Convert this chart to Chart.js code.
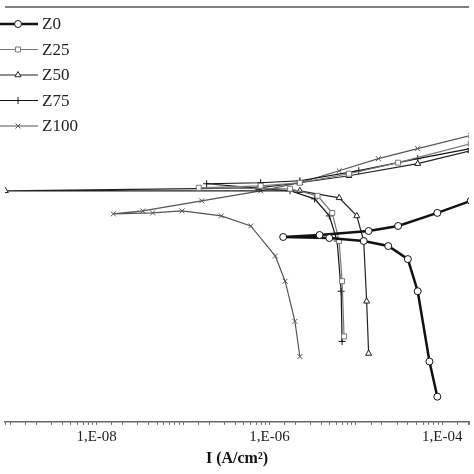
<!DOCTYPE html>
<html>
<head>
<meta charset="utf-8">
<script src="https://cdn.jsdelivr.net/npm/chart.js@4"></script>
<style>
  html, body { margin: 0; padding: 0; background: #fff; }
  #wrap { width: 474px; height: 474px; }
</style>
</head>
<body>
<div id="wrap"><canvas id="c"></canvas></div>
<script>
// log10 of current density (A/cm2) and potential (arbitrary units, axis cropped)
const seriesNames = ['Z0', 'Z25', 'Z50', 'Z75', 'Z100'];
const logI_Z0 = [-4.057, -4.148, -4.284, -4.398, -4.625, -4.909, -5.307, -5.841, -5.420, -4.852, -4.511, -4.057, -3.670];
const E_Z0 = [25, 60, 130, 162, 175, 180, 183, 184, 186, 190, 195, 208, 220];
const logI_Z25 = [-5.136, -5.159, -5.193, -5.273, -5.443, -5.761, -6.818, -6.102, -5.648, -5.080, -4.511, -3.670];
const E_Z25 = [85, 140, 180, 208, 225, 232, 233, 235, 238, 247, 258, 277];
const logI_Z50 = [-4.852, -4.875, -4.909, -4.989, -5.193, -5.648, -9.057, -6.125, -5.648, -5.080, -4.284, -3.670];
const E_Z50 = [68, 120, 180, 205, 223, 230, 230, 233, 238, 245, 257, 270];
const logI_Z75 = [-5.159, -5.170, -5.216, -5.307, -5.477, -5.761, -6.727, -6.102, -5.648, -4.966, -4.284, -3.670];
const E_Z75 = [80, 130, 180, 205, 222, 230, 237, 238, 240, 250, 262, 272];
const logI_Z100 = [-5.648, -5.705, -5.818, -5.932, -6.216, -6.557, -7.011, -7.352, -7.807, -7.466, -6.784, -6.102, -5.648, -5.193, -4.739, -4.284, -3.670];
const E_Z100 = [65, 100, 140, 165, 195, 205, 210, 208, 207, 210, 220, 230, 238, 250, 262, 272, 285];
const xTickLabels = { '-8': '1,E-08', '-6': '1,E-06', '-4': '1,E-04' };

const logs = [logI_Z0, logI_Z25, logI_Z50, logI_Z75, logI_Z100];
const pots = [E_Z0, E_Z25, E_Z50, E_Z75, E_Z100];
const markers = ['circle', 'rect', 'triangle', 'cross', 'crossRot'];
const colors = ['#111', '#777', '#222', '#111', '#555'];
const widths = [2.5, 1.2, 1.2, 1.2, 1.2];

const datasets = seriesNames.map((name, i) => ({
  label: name,
  data: logs[i].map((l, k) => ({ x: Math.pow(10, l), y: pots[i][k] })),
  showLine: true,
  borderColor: colors[i],
  borderWidth: widths[i],
  pointStyle: markers[i],
  pointRadius: 3.5,
  pointBackgroundColor: '#fff',
  pointBorderColor: colors[i],
  pointBorderWidth: 1
}));

// top frame line and legend drawn inside the plot
const framePlugin = {
  id: 'frame',
  afterDraw(chart) {
    const { ctx, chartArea } = chart;
    ctx.save();
    ctx.strokeStyle = '#555';
    ctx.lineWidth = 1.5;
    ctx.beginPath();
    ctx.moveTo(chartArea.left, chartArea.top);
    ctx.lineTo(chartArea.right, chartArea.top);
    ctx.stroke();
    chart.data.datasets.forEach((ds, i) => {
      const y = 24 + i * 25.5;
      ctx.strokeStyle = ds.borderColor;
      ctx.lineWidth = i === 0 ? 2.5 : 1;
      ctx.beginPath();
      ctx.moveTo(0, y);
      ctx.lineTo(38, y);
      ctx.stroke();
      ctx.fillStyle = '#fff';
      ctx.lineWidth = 1;
      Chart.helpers.drawPoint(ctx, { pointStyle: ds.pointStyle, radius: 3.5, borderWidth: 1 }, 18, y);
      ctx.fillStyle = '#222';
      ctx.font = '17px "Liberation Serif"';
      ctx.textBaseline = 'middle';
      ctx.fillText(ds.label, 42, y + 1);
    });
    ctx.restore();
  }
};

new Chart(document.getElementById('c'), {
  type: 'scatter',
  data: { datasets },
  options: {
    responsive: true,
    maintainAspectRatio: false,
    animation: false,
    layout: { padding: { top: 7, left: 0, right: 0, bottom: 4 } },
    plugins: { legend: { display: false }, tooltip: { enabled: false } },
    scales: {
      x: {
        type: 'logarithmic',
        min: 8.7e-10,
        max: 2.04e-4,
        border: { color: '#666', width: 1.5 },
        grid: { drawOnChartArea: false, tickLength: 3, color: '#666' },
        ticks: {
          autoSkip: false,
          maxRotation: 0,
          color: '#222',
          font: { family: 'Liberation Serif', size: 15 },
          callback: (v) => xTickLabels[String(Math.round(Math.log10(v)))] && Math.abs(Math.log10(v) - Math.round(Math.log10(v))) < 1e-6 ? xTickLabels[String(Math.round(Math.log10(v)))] : ''
        },
        title: {
          display: true,
          text: 'I (A/cm²)',
          color: '#111',
          font: { family: 'Liberation Serif', size: 16, weight: 'bold' },
          padding: { top: 0, bottom: 2 }
        }
      },
      y: { display: false, min: 0, max: 413 }
    }
  },
  plugins: [framePlugin]
});
</script>
</body>
</html>
